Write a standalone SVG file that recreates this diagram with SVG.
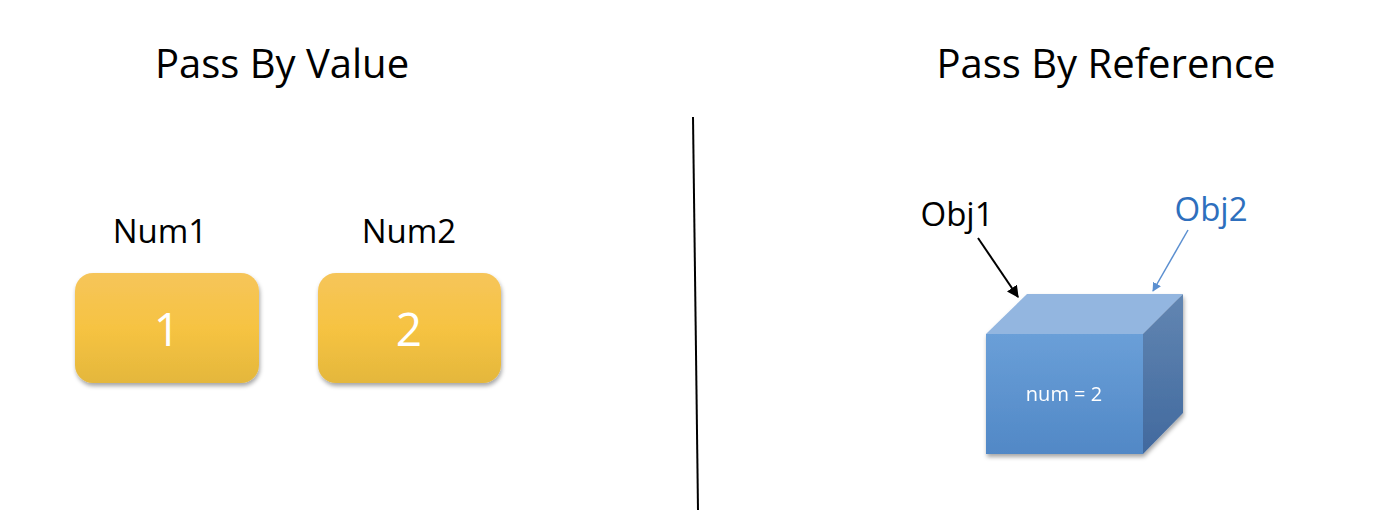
<svg xmlns="http://www.w3.org/2000/svg" width="1400" height="511" viewBox="0 0 1400 511">
<defs>
<linearGradient id="gold" x1="0" y1="0" x2="0" y2="1"><stop offset="0" stop-color="#f6c55a"/><stop offset="0.5" stop-color="#f6c342"/><stop offset="1" stop-color="#e4b73c"/></linearGradient>
<linearGradient id="front" x1="0" y1="0" x2="0" y2="1"><stop offset="0" stop-color="#6a9fd8"/><stop offset="1" stop-color="#5188c6"/></linearGradient>
<linearGradient id="side" x1="0" y1="0" x2="0" y2="1"><stop offset="0" stop-color="#6286b2"/><stop offset="1" stop-color="#41699e"/></linearGradient>
<filter id="sh" x="-10%" y="-10%" width="130%" height="130%"><feDropShadow dx="1" dy="3" stdDeviation="2" flood-color="#000" flood-opacity="0.35"/></filter>
<marker id="ak" viewBox="0 0 10 10" refX="9" refY="5" markerWidth="6" markerHeight="6" orient="auto"><path d="M0,0L10,5L0,10z" fill="#000"/></marker>
<marker id="ab" viewBox="0 0 10 10" refX="9" refY="5" markerWidth="6" markerHeight="6" orient="auto"><path d="M0,0L10,5L0,10z" fill="#5b8fd0"/></marker>
</defs>
<style>
text{font-family:"Open Sans","Noto Sans",sans-serif}
.t{font-size:40px;fill:#000}
.l{font-size:33px;fill:#000}
.n{font-size:46px;fill:#fff}
</style>
<rect width="1400" height="511" fill="#fff"/>
<text class="t" x="282" y="78" text-anchor="middle">Pass By Value</text>
<text class="t" x="1106" y="78" text-anchor="middle">Pass By Reference</text>
<g id="connectors">
<line x1="693" y1="117" x2="698" y2="510" stroke="#000" stroke-width="2"/>
<line x1="978" y1="238" x2="1018" y2="297" stroke="#000" stroke-width="2" marker-end="url(#ak)"/>
<line x1="1188" y1="230" x2="1153" y2="291" stroke="#5b8fd0" stroke-width="1.5" marker-end="url(#ab)"/>
</g>
<g id="num1">
<text class="l" x="160" y="243" text-anchor="middle">Num1</text>
<rect x="75" y="273" width="184" height="110" rx="18" fill="url(#gold)" filter="url(#sh)"/>
<text class="n" x="167" y="346" text-anchor="middle">1</text>
</g>
<g id="num2">
<text class="l" x="409" y="243" text-anchor="middle">Num2</text>
<rect x="318" y="273" width="183" height="110" rx="18" fill="url(#gold)" filter="url(#sh)"/>
<text class="n" x="409" y="346" text-anchor="middle">2</text>
</g>
<g id="obj1"><text class="l" x="957" y="226" text-anchor="middle">Obj1</text></g>
<g id="obj2"><text class="l" x="1211" y="221" text-anchor="middle" style="fill:#2e6fbd">Obj2</text></g>
<g id="cube" filter="url(#sh)">
<path d="M986,334L1027,294L1183,294L1143,334z" fill="#93b6e0"/>
<path d="M1143,334L1183,294L1183,413L1143,454z" fill="url(#side)"/>
<rect x="986" y="334" width="157" height="120" fill="url(#front)"/>
<text x="1064" y="401" text-anchor="middle" style="font-size:20px;fill:#fff">num = 2</text>
</g>
</svg>
